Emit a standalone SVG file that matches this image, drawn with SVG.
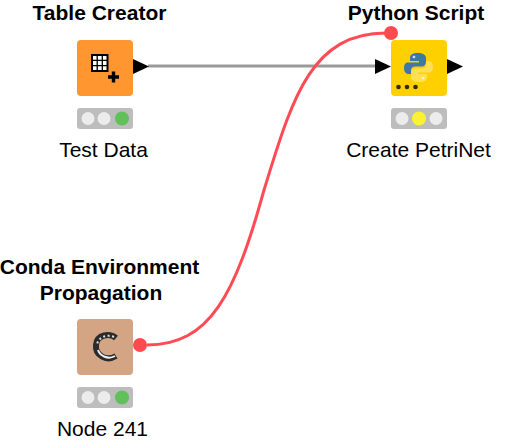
<svg xmlns="http://www.w3.org/2000/svg" width="512" height="443" viewBox="0 0 512 443">
<style>
text{font-family:"Liberation Sans",Arial,sans-serif;font-size:21px;fill:#000;text-anchor:middle}
.t{font-weight:bold}
.bar{fill:#bdbdbd}
.off{fill:#ececec}
.g{fill:#62c05a}
.y{fill:#fbf235}
.p{fill:#000}
.r{fill:#ff4b4f}
</style>
<rect width="512" height="443" fill="#fff"/>
<g id="connectors" fill="none">
<path d="M148 66H376" stroke="#9a9a9a" stroke-width="3"/>
<path d="M147 345C210 345 235 295 264 190C292 100 310 33 386 33" stroke="#ff4b55" stroke-width="3"/>
</g>
<g id="table-creator">
<text class="t" x="99.500" y="20">Table Creator</text>
<rect x="77" y="40" width="56" height="56" rx="4" fill="#ff9630"/>
<rect x="92" y="55" width="15.500" height="16" fill="#fff" stroke="#000" stroke-width="2"/>
<path d="M92 60.300H107.500M92 65.700H107.500M97.200 55V71M102.300 55V71" fill="none" stroke="#000" stroke-width="1.300"/>
<path d="M113.500 71.500V82.500M108 77H119" stroke="#000" stroke-width="3.400"/>
<polygon class="p" points="133,59 149,66.500 133,74"/>
<rect class="bar" x="77" y="108" width="56" height="21" rx="3"/>
<circle class="off" cx="88" cy="118.500" r="6.500"/><circle class="off" cx="104" cy="118.500" r="6.500"/><circle class="g" cx="122" cy="118.500" r="7"/>
<text x="103.500" y="157">Test Data</text>
</g>
<g id="python-script">
<text class="t" x="416" y="20">Python Script</text>
<rect x="391" y="40" width="56" height="56" rx="4" fill="#ffd000"/>
<path id="snake" d="M418 53C412 53 410 55 410 58V61H419V62.500H408C405 62.500 404 65 404 68C404 72 406 74 409 74H411V70.500C411 67.500 413 66.500 415 66.500H422C424 66.500 426 64.500 426 62V58C426 55 423 53 418 53Z" fill="#3f78a8"/>
<path d="M418 53C412 53 410 55 410 58V61H419V62.500H408C405 62.500 404 65 404 68C404 72 406 74 409 74H411V70.500C411 67.500 413 66.500 415 66.500H422C424 66.500 426 64.500 426 62V58C426 55 423 53 418 53Z" fill="#ffdf55" transform="rotate(180 418.500 67.500)"/>
<circle cx="414" cy="57" r="1.300" fill="#cfe0ee"/><circle cx="423" cy="78" r="1.300" fill="#fff6c8"/>
<circle class="p" cx="398.500" cy="87" r="2.300" fill-opacity=".8"/><circle class="p" cx="407" cy="87" r="2.300" fill-opacity=".8"/><circle class="p" cx="415.500" cy="87" r="2.300" fill-opacity=".8"/>
<polygon class="p" points="375,59 391,66.500 375,74"/>
<polygon class="p" points="447,59 463,66.500 447,74"/>
<circle class="r" cx="391" cy="33" r="7"/>
<rect class="bar" x="391" y="108" width="56" height="21" rx="3"/>
<circle class="off" cx="402" cy="118.500" r="6.500"/><circle class="y" cx="419" cy="118.500" r="7"/><circle class="off" cx="436" cy="118.500" r="6.500"/>
<text x="418.500" y="157">Create PetriNet</text>
</g>
<g id="conda-env">
<text class="t" x="99.500" y="274">Conda Environment</text>
<text class="t" x="101" y="300">Propagation</text>
<rect x="77" y="319" width="56" height="56" rx="4" fill="#d4a585"/>
<path d="M116 338C110 333 97 334 96 345C95 355 106 362 116 356" fill="none" stroke="#2b2b2b" stroke-width="6"/>
<path d="M114 337C107 334 99 337 97 344" fill="none" stroke="#ddd" stroke-width="2" stroke-dasharray="2 2.500"/>
<path d="M115 356C108 360 100 356 98 350" fill="none" stroke="#f0f0f0" stroke-width="2"/>
<circle class="r" cx="140" cy="345" r="7"/>
<rect class="bar" x="77" y="387" width="56" height="21" rx="3"/>
<circle class="off" cx="88" cy="397.500" r="6.500"/><circle class="off" cx="104" cy="397.500" r="6.500"/><circle class="g" cx="122" cy="397.500" r="7"/>
<text x="102.500" y="436">Node 241</text>
</g>
</svg>
